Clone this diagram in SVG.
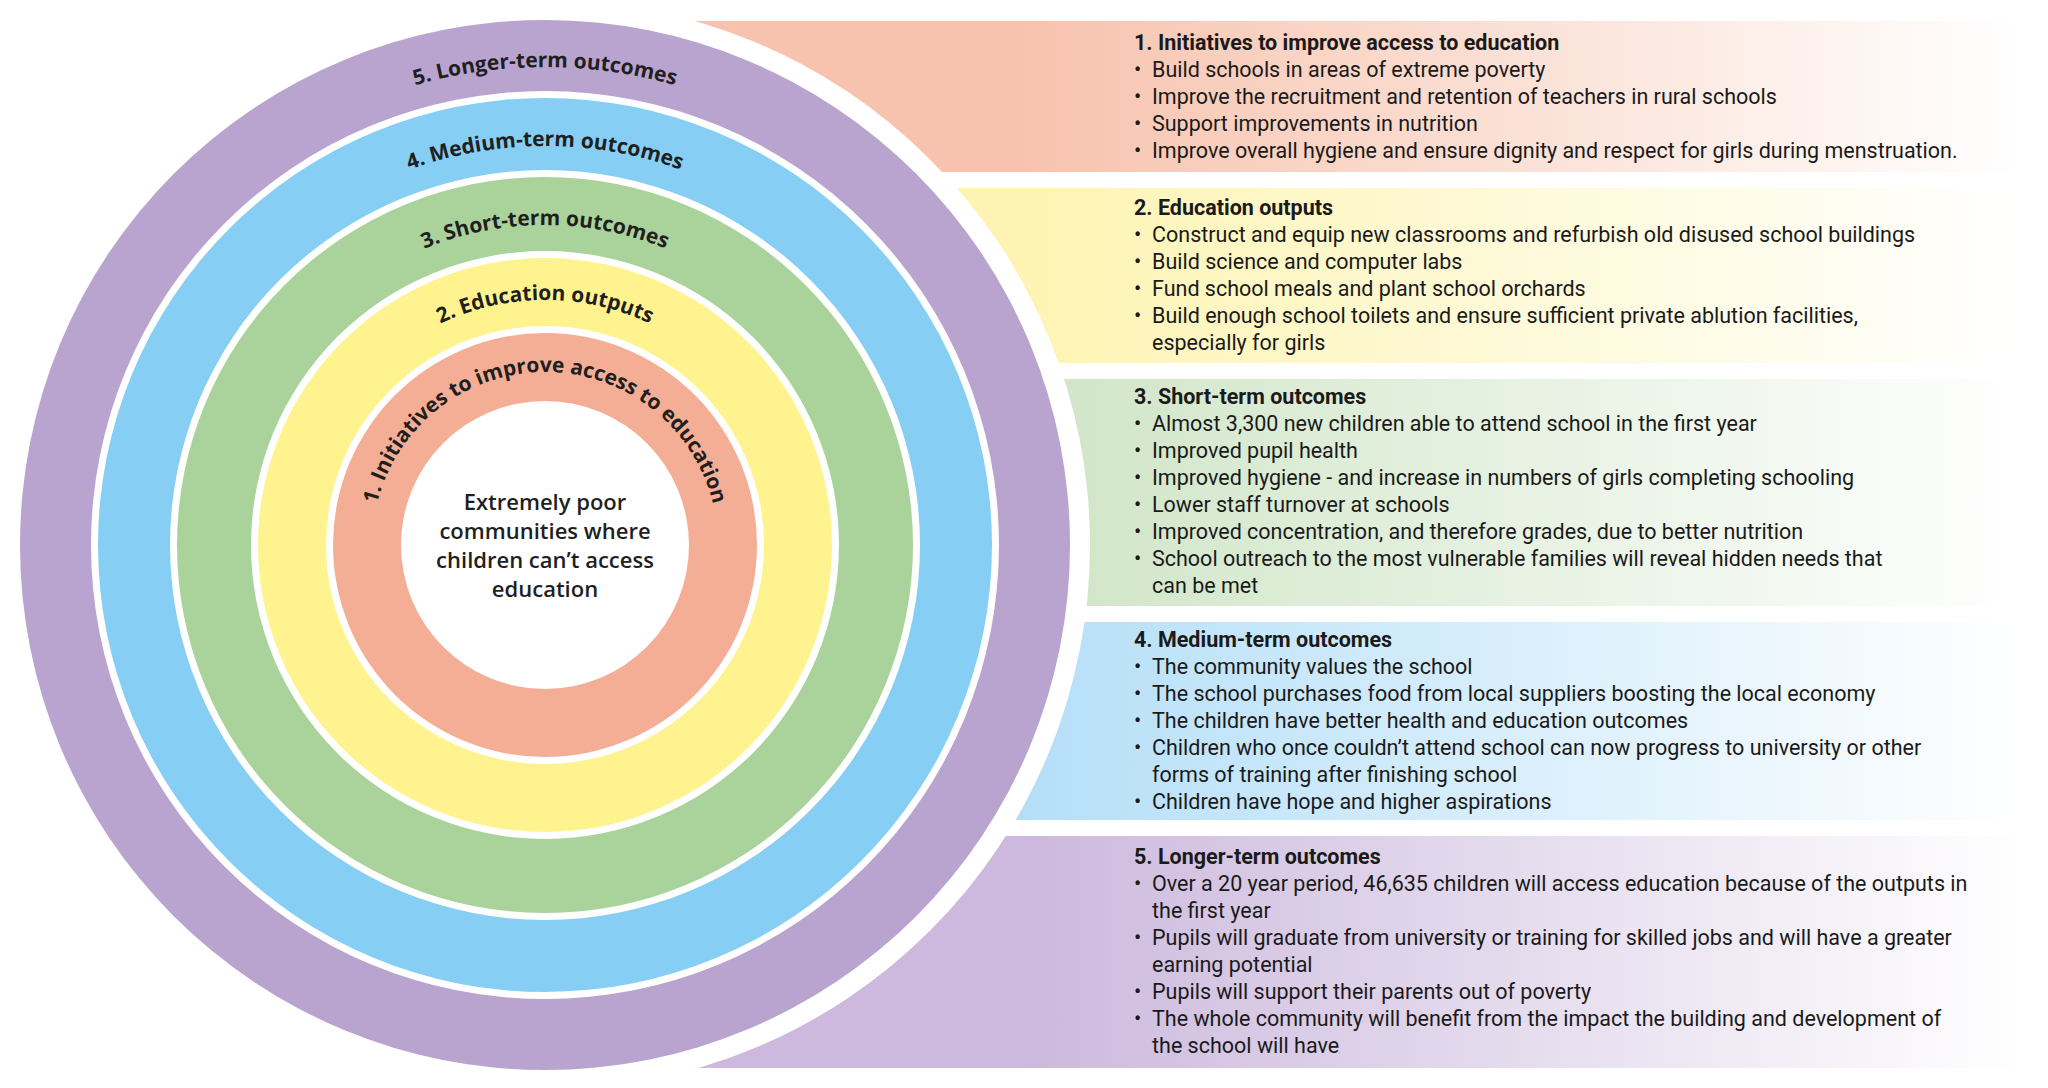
<svg xmlns="http://www.w3.org/2000/svg" width="2048" height="1088" viewBox="0 0 2048 1088">
<style>
.t{font-family:Roboto,"Liberation Sans",sans-serif;font-size:21.5px;fill:#1a1a1a}
.h{font-weight:bold}
.rl{font-family:"Open Sans","Noto Sans",sans-serif;font-weight:bold;font-size:21px;fill:#1f1f1f}
.c{font-family:"Open Sans","Noto Sans",sans-serif;font-weight:600;font-size:22px;fill:#1f1f1f;text-anchor:middle}
</style>
<defs>
<linearGradient id="g1"><stop offset="0.3" stop-color="#f7c3ae"/><stop offset="1" stop-color="#fff"/></linearGradient>
<linearGradient id="g2"><stop offset="0.3" stop-color="#fdf4b3"/><stop offset="1" stop-color="#fff"/></linearGradient>
<linearGradient id="g3"><stop offset="0.3" stop-color="#cfe5c6"/><stop offset="1" stop-color="#fff"/></linearGradient>
<linearGradient id="g4"><stop offset="0.3" stop-color="#b5dff8"/><stop offset="1" stop-color="#fff"/></linearGradient>
<linearGradient id="g5"><stop offset="0.3" stop-color="#ccb9dd"/><stop offset="1" stop-color="#fff"/></linearGradient>
<path id="a5" d="M 67 545 A 478 478 0 0 1 1023 545"/>
<path id="a4" d="M 146 545 A 399 399 0 0 1 944 545"/>
<path id="a3" d="M 225 545 A 320 320 0 0 1 865 545"/>
<path id="a2" d="M 300 545 A 245 245 0 0 1 790 545"/>
<path id="a1" d="M 372 545 A 173 173 0 0 1 718 545"/>
</defs>
<rect width="2048" height="1088" fill="#fff"/>
<g id="panels">
<rect x="600" y="21" width="1424" height="151" fill="url(#g1)"/>
<rect x="600" y="188" width="1424" height="175" fill="url(#g2)"/>
<rect x="600" y="379" width="1424" height="227" fill="url(#g3)"/>
<rect x="600" y="622" width="1424" height="198" fill="url(#g4)"/>
<rect x="600" y="836" width="1424" height="232" fill="url(#g5)"/>
<circle cx="545" cy="545" r="545" fill="#fff"/>
</g>
<g id="rings">
<circle id="ring5" cx="545" cy="545" r="525" fill="#b9a3cf"/>
<circle cx="545" cy="545" r="454" fill="#fff"/>
<circle id="ring4" cx="545" cy="545" r="447" fill="#86cef4"/>
<circle cx="545" cy="545" r="375" fill="#fff"/>
<circle id="ring3" cx="545" cy="545" r="368" fill="#a9d39b"/>
<circle cx="545" cy="545" r="294" fill="#fff"/>
<circle id="ring2" cx="545" cy="545" r="287" fill="#fff38f"/>
<circle cx="545" cy="545" r="219" fill="#fff"/>
<circle id="ring1" cx="545" cy="545" r="212" fill="#f5ae96"/>
<circle id="center" cx="545" cy="545" r="144" fill="#fff"/>
</g>
<g id="ring-labels">
<text class="rl"><textPath href="#a5" startOffset="50%" text-anchor="middle">5. Longer-term outcomes</textPath></text>
<text class="rl"><textPath href="#a4" startOffset="50%" text-anchor="middle">4. Medium-term outcomes</textPath></text>
<text class="rl"><textPath href="#a3" startOffset="50%" text-anchor="middle">3. Short-term outcomes</textPath></text>
<text class="rl"><textPath href="#a2" startOffset="50%" text-anchor="middle">2. Education outputs</textPath></text>
<text class="rl"><textPath href="#a1" startOffset="50%" text-anchor="middle">1. Initiatives to improve access to education</textPath></text>
<text class="c"><tspan x="545" y="510">Extremely poor</tspan><tspan x="545" y="539">communities where</tspan><tspan x="545" y="568">children can’t access</tspan><tspan x="545" y="597">education</tspan></text>
</g>
<g id="text1" class="t">
<text x="1134" y="50" class="t h">1. Initiatives to improve access to education</text>
<text y="77"><tspan x="1134">•</tspan><tspan x="1152">Build schools in areas of extreme poverty</tspan></text>
<text y="104"><tspan x="1134">•</tspan><tspan x="1152">Improve the recruitment and retention of teachers in rural schools</tspan></text>
<text y="131"><tspan x="1134">•</tspan><tspan x="1152">Support improvements in nutrition</tspan></text>
<text y="158"><tspan x="1134">•</tspan><tspan x="1152">Improve overall hygiene and ensure dignity and respect for girls during menstruation.</tspan></text>
</g>
<g id="text2" class="t">
<text x="1134" y="215" class="t h">2. Education outputs</text>
<text y="242"><tspan x="1134">•</tspan><tspan x="1152">Construct and equip new classrooms and refurbish old disused school buildings</tspan></text>
<text y="269"><tspan x="1134">•</tspan><tspan x="1152">Build science and computer labs</tspan></text>
<text y="296"><tspan x="1134">•</tspan><tspan x="1152">Fund school meals and plant school orchards</tspan></text>
<text y="323"><tspan x="1134">•</tspan><tspan x="1152">Build enough school toilets and ensure sufficient private ablution facilities,</tspan></text>
<text x="1152" y="350">especially for girls</text>
</g>
<g id="text3" class="t">
<text x="1134" y="404" class="t h">3. Short-term outcomes</text>
<text y="431"><tspan x="1134">•</tspan><tspan x="1152">Almost 3,300 new children able to attend school in the first year</tspan></text>
<text y="458"><tspan x="1134">•</tspan><tspan x="1152">Improved pupil health</tspan></text>
<text y="485"><tspan x="1134">•</tspan><tspan x="1152">Improved hygiene - and increase in numbers of girls completing schooling</tspan></text>
<text y="512"><tspan x="1134">•</tspan><tspan x="1152">Lower staff turnover at schools</tspan></text>
<text y="539"><tspan x="1134">•</tspan><tspan x="1152">Improved concentration, and therefore grades, due to better nutrition</tspan></text>
<text y="566"><tspan x="1134">•</tspan><tspan x="1152">School outreach to the most vulnerable families will reveal hidden needs that</tspan></text>
<text x="1152" y="593">can be met</text>
</g>
<g id="text4" class="t">
<text x="1134" y="647" class="t h">4. Medium-term outcomes</text>
<text y="674"><tspan x="1134">•</tspan><tspan x="1152">The community values the school</tspan></text>
<text y="701"><tspan x="1134">•</tspan><tspan x="1152">The school purchases food from local suppliers boosting the local economy</tspan></text>
<text y="728"><tspan x="1134">•</tspan><tspan x="1152">The children have better health and education outcomes</tspan></text>
<text y="755"><tspan x="1134">•</tspan><tspan x="1152">Children who once couldn’t attend school can now progress to university or other</tspan></text>
<text x="1152" y="782">forms of training after finishing school</text>
<text y="809"><tspan x="1134">•</tspan><tspan x="1152">Children have hope and higher aspirations</tspan></text>
</g>
<g id="text5" class="t">
<text x="1134" y="864" class="t h">5. Longer-term outcomes</text>
<text y="891"><tspan x="1134">•</tspan><tspan x="1152">Over a 20 year period, 46,635 children will access education because of the outputs in</tspan></text>
<text x="1152" y="918">the first year</text>
<text y="945"><tspan x="1134">•</tspan><tspan x="1152">Pupils will graduate from university or training for skilled jobs and will have a greater</tspan></text>
<text x="1152" y="972">earning potential</text>
<text y="999"><tspan x="1134">•</tspan><tspan x="1152">Pupils will support their parents out of poverty</tspan></text>
<text y="1026"><tspan x="1134">•</tspan><tspan x="1152">The whole community will benefit from the impact the building and development of</tspan></text>
<text x="1152" y="1053">the school will have</text>
</g>
</svg>
